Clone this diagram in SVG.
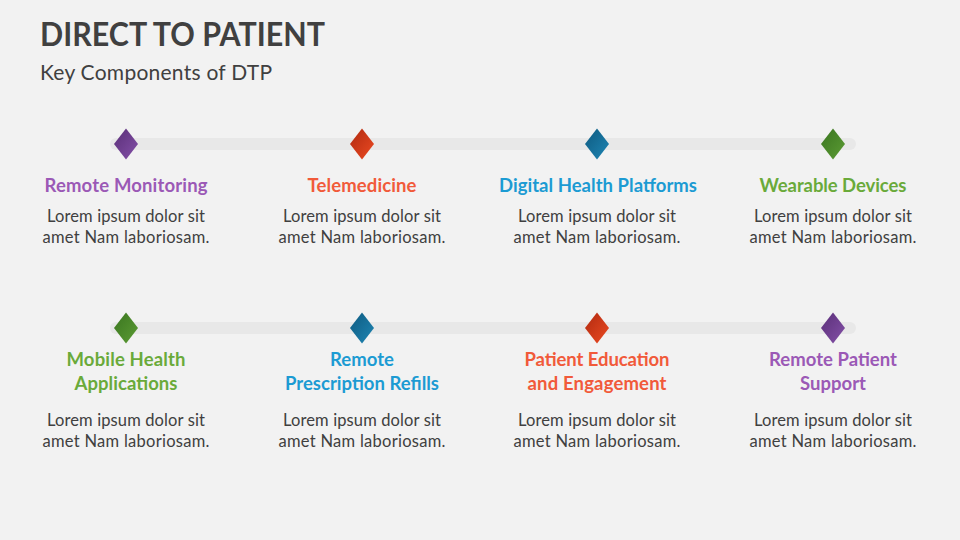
<svg xmlns="http://www.w3.org/2000/svg" width="960" height="540" viewBox="0 0 960 540">
<defs>
<style>
.bg{fill:#f2f2f2}
.bar{fill:#e8e8e8}
.h1{font-family:Lato,"Liberation Sans",sans-serif;font-weight:700;font-size:33px;fill:#404040}
.h2{font-family:Lato,"Liberation Sans",sans-serif;font-size:21px;fill:#404040}
.t{font-family:Lato,"Liberation Sans",sans-serif;font-weight:700;font-size:18.5px;text-anchor:middle}
.b{font-family:Lato,"Liberation Sans",sans-serif;font-size:16.5px;fill:#404040;text-anchor:middle}
.purple{fill:#9b59b6}
.orange{fill:#f15a3a}
.blue{fill:#1c9bd3}
.green{fill:#6aaa3a}
</style>
<linearGradient id="gP" x1="0" y1="0" x2="1" y2="1"><stop offset="0" stop-color="#5a2f78"/><stop offset="1" stop-color="#8450a8"/></linearGradient>
<linearGradient id="gR" x1="0" y1="0" x2="1" y2="1"><stop offset="0" stop-color="#b02a10"/><stop offset="1" stop-color="#ec4a22"/></linearGradient>
<linearGradient id="gB" x1="0" y1="0" x2="1" y2="1"><stop offset="0" stop-color="#0e5a80"/><stop offset="1" stop-color="#1f86b4"/></linearGradient>
<linearGradient id="gG" x1="0" y1="0" x2="1" y2="1"><stop offset="0" stop-color="#3a7520"/><stop offset="1" stop-color="#5c9c34"/></linearGradient>
<path id="dia" d="M0,-15.5 L12,0 L0,15.5 L-12,0 Z"/>
</defs>
<rect class="bg" x="0" y="0" width="960" height="540"/>
<text class="h1" x="40" y="46" textLength="285" lengthAdjust="spacingAndGlyphs">DIRECT TO PATIENT</text>
<text class="h2" x="40" y="80" textLength="232">Key Components of DTP</text>

<g id="connectors">
<rect class="bar" x="110" y="138" width="746" height="12" rx="6"/>
<rect class="bar" x="110" y="322" width="746" height="12" rx="6"/>
</g>

<g id="n1">
<use href="#dia" x="126" y="144" fill="url(#gP)"/>
<text class="t purple" x="126" y="192" textLength="163">Remote Monitoring</text>
<text class="b" x="126" y="222" textLength="158">Lorem ipsum dolor sit</text>
<text class="b" x="126" y="243" textLength="167">amet Nam laboriosam.</text>
</g>
<g id="n2">
<use href="#dia" x="362" y="144" fill="url(#gR)"/>
<text class="t orange" x="362" y="192" textLength="109">Telemedicine</text>
<text class="b" x="362" y="222" textLength="158">Lorem ipsum dolor sit</text>
<text class="b" x="362" y="243" textLength="167">amet Nam laboriosam.</text>
</g>
<g id="n3">
<use href="#dia" x="597" y="144" fill="url(#gB)"/>
<text class="t blue" x="598" y="192" textLength="198">Digital Health Platforms</text>
<text class="b" x="597" y="222" textLength="158">Lorem ipsum dolor sit</text>
<text class="b" x="597" y="243" textLength="167">amet Nam laboriosam.</text>
</g>
<g id="n4">
<use href="#dia" x="833" y="144" fill="url(#gG)"/>
<text class="t green" x="833" y="192" textLength="147">Wearable Devices</text>
<text class="b" x="833" y="222" textLength="158">Lorem ipsum dolor sit</text>
<text class="b" x="833" y="243" textLength="167">amet Nam laboriosam.</text>
</g>

<g id="n5">
<use href="#dia" x="126" y="328" fill="url(#gG)"/>
<text class="t green" x="126" y="366" textLength="119">Mobile Health</text>
<text class="t green" x="126" y="390" textLength="103">Applications</text>
<text class="b" x="126" y="426" textLength="158">Lorem ipsum dolor sit</text>
<text class="b" x="126" y="447" textLength="167">amet Nam laboriosam.</text>
</g>
<g id="n6">
<use href="#dia" x="362" y="328" fill="url(#gB)"/>
<text class="t blue" x="362" y="366" textLength="64">Remote</text>
<text class="t blue" x="362" y="390" textLength="154">Prescription Refills</text>
<text class="b" x="362" y="426" textLength="158">Lorem ipsum dolor sit</text>
<text class="b" x="362" y="447" textLength="167">amet Nam laboriosam.</text>
</g>
<g id="n7">
<use href="#dia" x="597" y="328" fill="url(#gR)"/>
<text class="t orange" x="597" y="366" textLength="145">Patient Education</text>
<text class="t orange" x="597" y="390" textLength="139">and Engagement</text>
<text class="b" x="597" y="426" textLength="158">Lorem ipsum dolor sit</text>
<text class="b" x="597" y="447" textLength="167">amet Nam laboriosam.</text>
</g>
<g id="n8">
<use href="#dia" x="833" y="328" fill="url(#gP)"/>
<text class="t purple" x="833" y="366" textLength="128">Remote Patient</text>
<text class="t purple" x="833" y="390" textLength="66">Support</text>
<text class="b" x="833" y="426" textLength="158">Lorem ipsum dolor sit</text>
<text class="b" x="833" y="447" textLength="167">amet Nam laboriosam.</text>
</g>
</svg>
